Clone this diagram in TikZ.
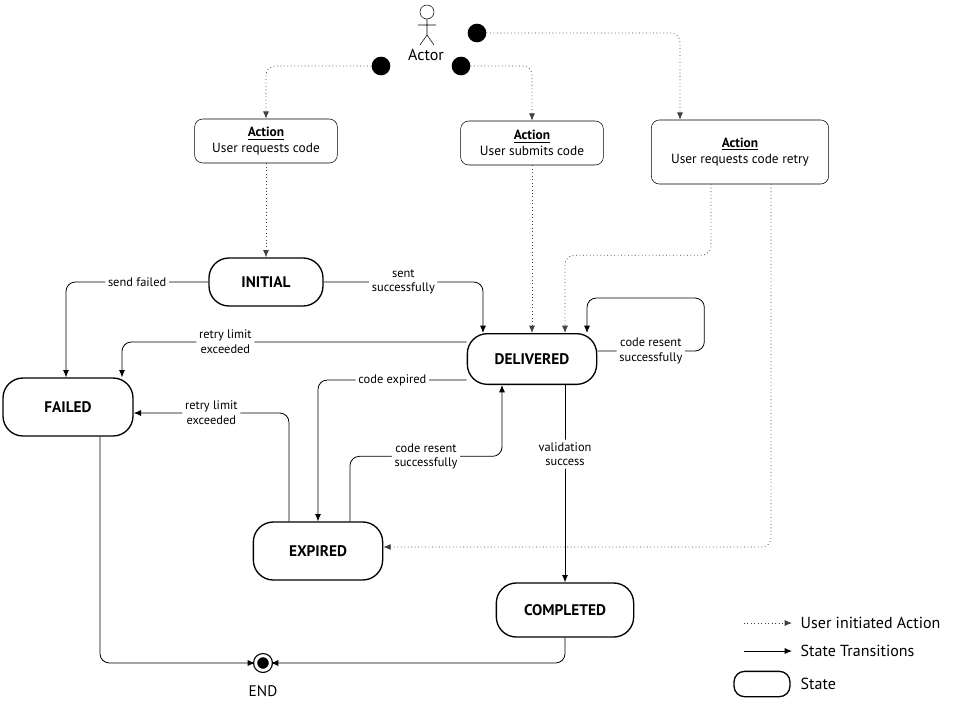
\documentclass[tikz,border=0pt]{standalone}
\usepackage{fontspec}
\setmainfont{PT Sans}
\usetikzlibrary{arrows.meta}
\tikzset{
    action/.style={rectangle,draw,rounded corners=6pt,minimum width=107pt,minimum height=33pt,align=center,font=\fontsize{10}{11.5}\selectfont,inner sep=2pt},
    state/.style={rectangle,draw,line width=1pt,rounded corners=15pt,font=\fontsize{11.5}{13}\selectfont\bfseries},
    lbl/.style={fill=white,align=center,font=\fontsize{9.3}{11}\selectfont,inner sep=2pt},
    trigger/.style={circle,fill=black,minimum size=14pt,inner sep=0pt},
    endstate/.style={circle,draw,fill=black,minimum size=11pt,inner sep=0pt,double=white,double distance=2.2pt,line width=0.9pt},
    flow/.style={rounded corners=7pt,line width=0.6pt,arrows={-Latex[length=5.5pt,width=4.5pt]}},
    user/.style={flow,dotted,black!75},
    legend/.style={font=\fontsize{12}{14}\selectfont,anchor=west},
    }
\begin{document}
\begin{tikzpicture}[x=0.75pt,y=-0.75pt]
    \useasboundingbox (0,0) rectangle (975,714);
    % actor
    \draw (427,12) circle (7);
    \draw (427,19) -- (427,35) (418,25) -- (436,25) (420,45) -- (427,35) -- (434,45);
    \node[font=\fontsize{12}{14}\selectfont] (actor) at (426,55) {Actor};
    \node[trigger] (d1) at (381,66) {};
    \node[trigger] (d2) at (461,66) {};
    \node[trigger] (d3) at (477,33) {};

    % actions
    \node[action] (act1) at (266,141) {\underline{\textbf{Action}}\\User requests code};
    \node[action] (act2) at (532,143) {\underline{\textbf{Action}}\\User submits code};
    \node[action,minimum width=133pt,minimum height=48pt] (act3) at (740,152) {\underline{\textbf{Action}}\\User requests code retry};

    % states
    \node[state,minimum width=85.5pt,minimum height=36pt] (init) at (266,282) {INITIAL};
    \node[state,minimum width=97pt,minimum height=38pt] (del) at (532,359) {DELIVERED};
    \node[state,minimum width=97.5pt,minimum height=43.5pt] (fail) at (68,407) {FAILED};
    \node[state,minimum width=97pt,minimum height=43.5pt] (exp) at (318,551) {EXPIRED};
    \node[state,minimum width=103pt,minimum height=40.5pt] (comp) at (565,610) {COMPLETED};
    \node[endstate] (end) at (263,663) {};
    \node[font=\fontsize{11.5}{13}\selectfont] (endlbl) at (263,691) {END};

    % user actions
    \draw[user] (d1.west) -| (act1.north);
    \draw[user] (d2.east) -| (act2.north);
    \draw[user] (d3.east) -| ([xshift=-45pt]act3.north);
    \draw[user] (act1.south) -- (init.north);
    \draw[user] (act2.south) -- (del.north);
    \draw[user] ([xshift=-21.75pt]act3.south) -- ++(0,71) -| ([xshift=24.75pt]del.north);
    \draw[user] ([xshift=23.25pt]act3.south) |- ([yshift=3pt]exp.east);

    % transitions
    \draw[flow] (init.west) -| node[lbl,pos=0.25] {send failed} ([xshift=-1.5pt]fail.north);
    \draw[flow] (init.east) -| node[lbl,pos=0.25] {sent\\successfully} ([xshift=-36.75pt]del.north);
    \draw[flow] ([yshift=6pt]del.east) -- node[lbl] {code resent\\successfully} ++(107,0) -- ++(0,-53) -| ([xshift=41.25pt]del.north);
    \draw[flow] ([yshift=12.75pt]del.west) -| node[lbl,pos=0.35] {retry limit\\exceeded} ([xshift=40.5pt]fail.north);
    \draw[flow] ([yshift=-15.75pt]del.west) -| node[lbl,pos=0.25] {code expired} (exp.north);
    \draw[flow] ([xshift=24pt]exp.north) -- ++(0,-65) -| node[lbl,pos=0.25] {code resent\\successfully} ([xshift=-22.5pt]del.south);
    \draw[flow] ([xshift=-21.75pt]exp.north) |- node[lbl,pos=0.75] {retry limit\\exceeded} ([yshift=-4.5pt]fail.east);
    \draw[flow] ([xshift=24.75pt]del.south) -- node[lbl,pos=0.35] {validation\\success} ([xshift=24.75pt]del.south |- comp.north);
    \draw[flow] ([xshift=24pt]fail.south) |- (end.west);
    \draw[flow] (comp.south) |- (end.east);

    % legend
    \coordinate (l1a) at (744,623);
    \coordinate (l1b) at (792,623);
    \coordinate (l2a) at (744,651);
    \coordinate (l2b) at (792,651);
    \draw[user] (l1a) -- (l1b);
    \draw[flow] (l2a) -- (l2b);
    \node[state,minimum width=42pt,minimum height=19pt,rounded corners=8pt] (lbox) at (762,684) {};
    \node[legend] (t1) at (796,623) {User initiated Action};
    \node[legend] (t2) at (796,651) {State Transitions};
    \node[legend] (t3) at (796,684) {State};
\end{tikzpicture}
\end{document}
